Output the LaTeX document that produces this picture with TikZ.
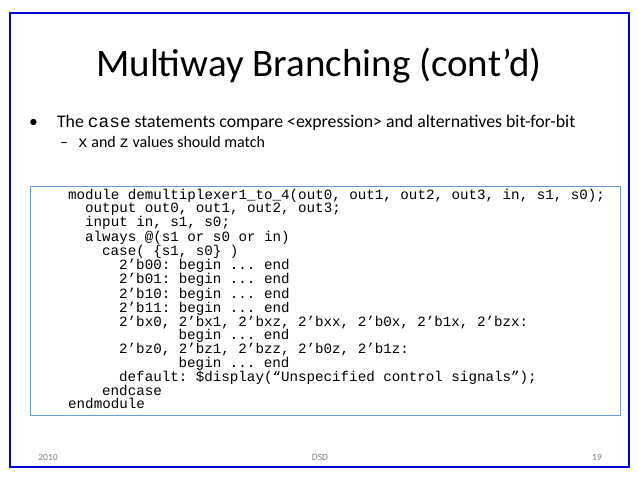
\documentclass[tikz,border=0pt]{standalone}
\usepackage{fontspec}
\setmainfont{Carlito}
\newfontfamily\codefont{Liberation Mono}
\usetikzlibrary{positioning}
\frenchspacing
\newcommand{\ind}[1]{\hspace*{#1\dimexpr 8.5pt\relax}}
\tikzstyle{frame} = [draw=blue!85!black, line width=1.2pt]
\tikzstyle{codebox} = [draw=cyan!50!blue!60, line width=0.8pt]
\tikzstyle{footer} = [font=\fontsize{9.5}{11}\selectfont, text=gray]

\begin{document}
\begin{tikzpicture}[x=1pt, y=-1pt]
				\useasboundingbox (0,0) rectangle (638,478);
				\fill[white] (0,0) rectangle (638,478);
				\draw[frame] (10,13) rectangle (629,467);
				
				\node (title) at (319,66) {\fontsize{39}{44}\selectfont Multiway Branching (cont’d)};
				\node (bullet) [anchor=base west, inner sep=0pt] at (29,128) {\fontsize{17.8}{20}\selectfont\textbullet\hspace{19pt}The {\codefont case} statements compare <expression> and alternatives bit-for-bit};
				\node (sub) [anchor=base west, inner sep=0pt] at (60,148) {\fontsize{16}{18}\selectfont –\hspace{10pt}{\codefont x} and {\codefont z} values should match};
				
				\draw[codebox] (30,186) rectangle (620,415);
				\node (code) [anchor=north west, align=left, inner sep=0pt, font=\codefont\fontsize{14.2}{13.2}\selectfont] at (68,189) {%
					module demultiplexer1\_to\_4(out0, out1, out2, out3, in, s1, s0);\\
					\ind{2}output out0, out1, out2, out3;\\
					\ind{2}input in, s1, s0;\\
					\ind{2}always @(s1 or s0 or in)\\
					\ind{4}case( \{s1, s0\} )\\
					\ind{6}2’b00: begin ... end\\
					\ind{6}2’b01: begin ... end\\
					\ind{6}2’b10: begin ... end\\
					\ind{6}2’b11: begin ... end\\
					\ind{6}2’bx0, 2’bx1, 2’bxz, 2’bxx, 2’b0x, 2’b1x, 2’bzx:\\
					\ind{13}begin ... end\\
					\ind{6}2’bz0, 2’bz1, 2’bzz, 2’b0z, 2’b1z:\\
					\ind{13}begin ... end\\
					\ind{6}default: \$display(“Unspecified control signals”);\\
					\ind{4}endcase\\
					endmodule};
				
				\node (year) [footer] at (48,457) {2010};
				\node (course) [footer] at (320,457) {DSD};
				\node (page) [footer] at (597,457) {19};
\end{tikzpicture}
\end{document}
